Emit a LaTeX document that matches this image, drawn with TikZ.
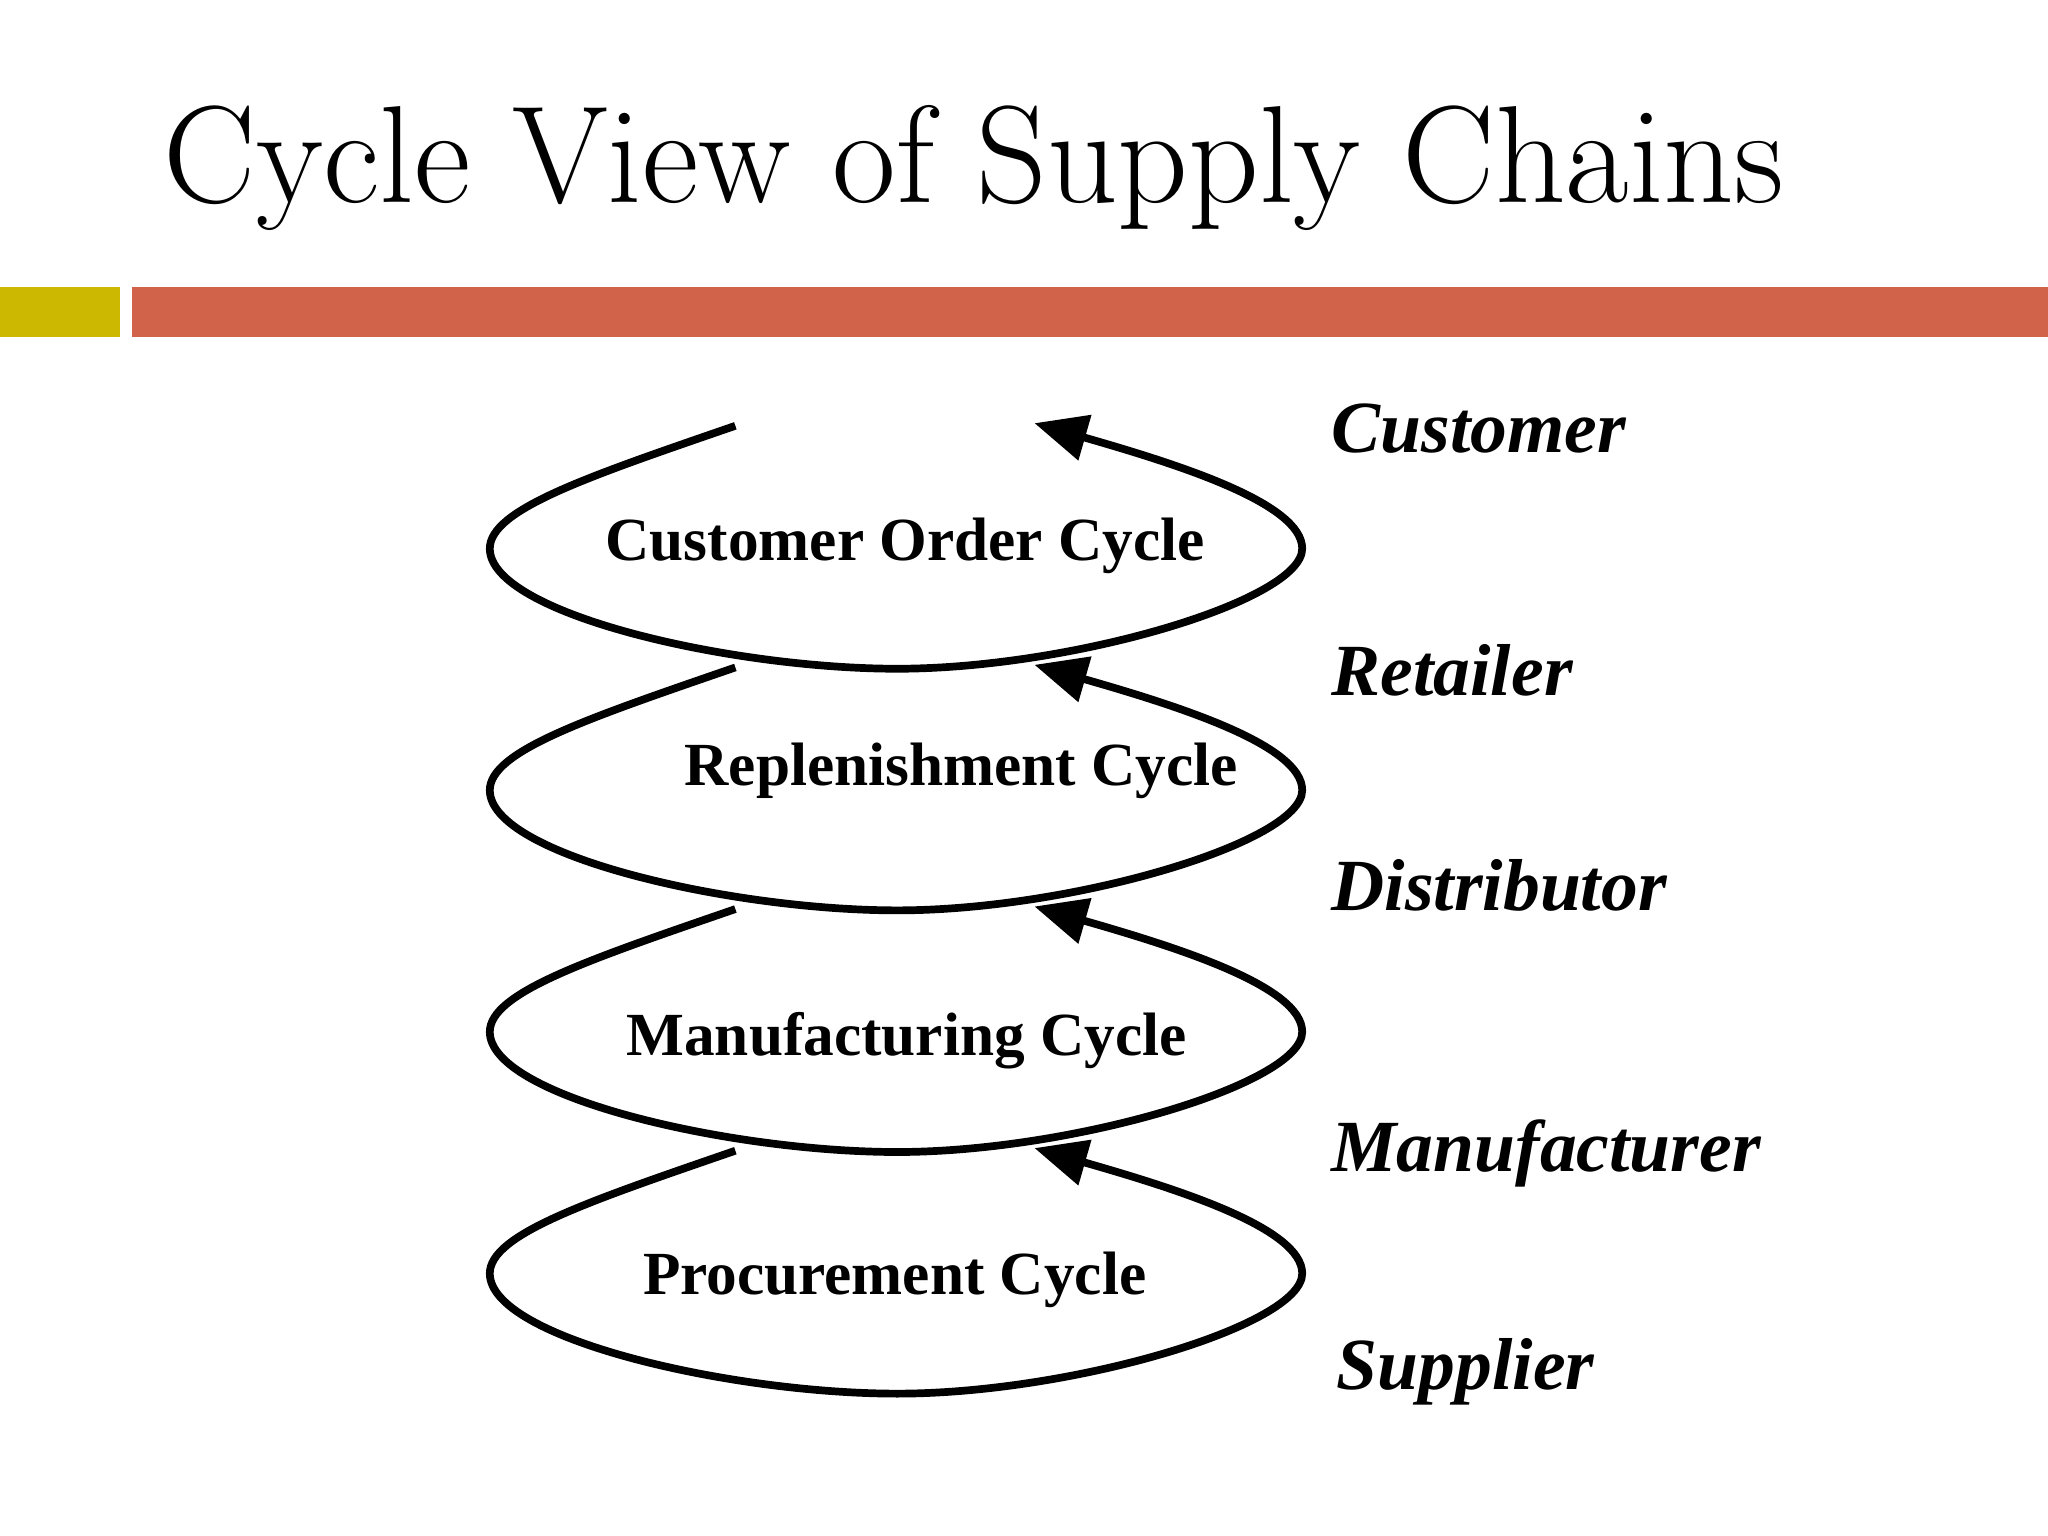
\documentclass[tikz,border=0pt]{standalone}
\usepackage{fontspec}
\newfontfamily\libserif{Liberation Serif}
\usetikzlibrary{arrows.meta}
\definecolor{baryel}{RGB}{204,184,0}
\definecolor{barora}{RGB}{209,99,74}
\begin{document}
\begin{tikzpicture}[x=0.0131cm,y=-0.0131cm,
  loop/.style={line width=2.2pt,-{Triangle[length=15pt,width=13pt]}},
  cyc/.style={font=\libserif\bfseries\fontsize{17.5}{20}\selectfont},
  role/.style={font=\libserif\bfseries\itshape\fontsize{21}{24}\selectfont,anchor=west}]
\useasboundingbox (0,0) rectangle (1568,1176);
\node[anchor=base west,font=\fontsize{39.5}{46}\selectfont] (title) at (116,155) {Cycle View of Supply Chains};
\fill[baryel] (0,220) rectangle (92,258);
\fill[barora] (101,220) rectangle (1568,258);
\foreach \dy in {0,185,370,555}{
  \draw[loop] (563,326+\dy) .. controls (450,365+\dy) and (375,390+\dy) .. (375,420+\dy)
     .. controls (375,470+\dy) and (560,512+\dy) .. (687,512+\dy)
     .. controls (820,512+\dy) and (997,460+\dy) .. (997,420+\dy)
     .. controls (997,385+\dy) and (900,355+\dy) .. (792,324+\dy);
}
\node[cyc] (c1) at (693,418) {Customer Order Cycle};
\node[cyc] (c2) at (736,590) {Replenishment Cycle};
\node[cyc] (c3) at (694,797) {Manufacturing Cycle};
\node[cyc] (c4) at (685,980) {Procurement Cycle};
\node[role] (r1) at (1010,328) {Customer};
\node[role] (r2) at (1010,513) {Retailer};
\node[role] (r3) at (1010,678) {Distributor};
\node[role] (r4) at (1010,883) {Manufacturer};
\node[role] (r5) at (1014,1050) {Supplier};
\end{tikzpicture}
\end{document}
